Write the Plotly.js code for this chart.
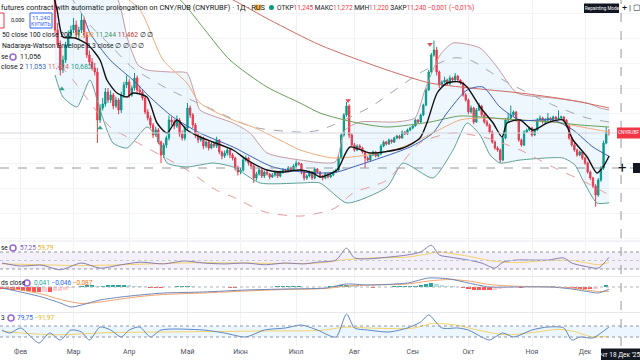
<!DOCTYPE html>
<html><head><meta charset="utf-8">
<script src="https://cdn.plot.ly/plotly-3.0.1.min.js"></script>
<style>html,body{margin:0;padding:0;background:#fff;overflow:hidden}#chart{width:640px;height:360px;}</style>
</head><body><div id="chart"></div>
<script>
// ---------- DATA (daily candles, index 0 = first trading day on screen) ----------
const monthLabels = ['Фев','Мар','Апр','Май','Июн','Июл','Авг','Сен','Окт','Ноя','Дек'];
const monthStartIdx = [7,27,48,70,90,111,133,155,176,200,220];

const open = [
13.65,13.62,13.58,13.50,13.46,13.52,13.55,13.42,13.48,13.44,
13.30,13.28,13.22,13.30,13.34,12.85,12.50,12.46,12.55,12.48,
12.42,12.064,11.944,11.744,11.824,11.944,12.024,12.064,12.104,12.024,
12.064,12.144,12.024,11.864,11.808,11.760,11.728,11.344,11.440,11.472,
11.568,11.504,11.544,11.456,11.504,11.424,11.544,11.624,11.648,11.544,
11.600,11.680,11.584,11.568,11.520,11.408,11.360,11.304,11.224,11.264,
11.168,11.064,11.144,11.200,11.344,11.328,11.296,11.344,11.232,11.200,
11.280,11.440,11.384,11.304,11.224,11.184,11.200,11.136,11.168,11.120,
11.152,11.136,11.184,11.088,11.056,11.080,11.104,11.064,11.040,10.960,
10.928,10.944,11.024,11.040,11.000,10.976,10.880,10.912,10.944,10.896,
10.928,10.912,10.888,10.904,10.928,10.896,10.928,10.944,10.936,10.960,
10.944,10.976,11.000,10.992,10.928,10.880,10.896,10.928,10.880,10.952,
10.928,10.896,10.880,10.912,10.888,10.904,10.928,10.944,11.040,11.224,
11.384,11.456,11.224,11.144,11.104,11.136,11.120,11.088,11.040,11.024,
11.064,11.088,11.056,11.072,11.136,11.168,11.152,11.184,11.168,11.200,
11.216,11.200,11.248,11.232,11.264,11.280,11.296,11.344,11.328,11.384,
11.464,11.584,11.728,11.864,11.904,11.728,11.624,11.648,11.664,11.632,
11.680,11.664,11.696,11.664,11.640,11.544,11.504,11.408,11.440,11.328,
11.424,11.456,11.384,11.328,11.304,11.248,11.168,11.120,11.104,11.024,
11.200,11.344,11.360,11.384,11.408,11.344,11.184,11.144,11.248,11.264,
11.280,11.224,11.264,11.344,11.360,11.328,11.344,11.360,11.344,11.368,
11.352,11.360,11.368,11.344,11.296,11.200,11.144,11.104,11.064,11.088,
11.040,11.000,10.928,10.880,10.816,10.744,10.864,10.960,11.160,11.245];
const high = [
13.70,13.66,13.62,13.54,13.56,13.60,13.58,13.50,13.52,13.48,
13.34,13.32,13.34,13.38,13.38,12.90,12.54,12.60,12.58,12.52,
12.440,12.120,11.980,11.860,11.970,12.060,12.100,12.160,12.140,12.090,
12.200,12.170,12.050,11.900,11.840,11.800,11.760,11.470,11.520,11.600,
11.600,11.580,11.560,11.530,11.520,11.570,11.650,11.700,11.670,11.620,
11.720,11.700,11.620,11.590,11.540,11.430,11.380,11.320,11.290,11.280,
11.180,11.160,11.220,11.380,11.370,11.350,11.380,11.360,11.260,11.300,
11.480,11.460,11.400,11.320,11.240,11.220,11.210,11.180,11.180,11.170,
11.170,11.210,11.190,11.100,11.100,11.120,11.110,11.080,11.050,10.980,
10.960,11.040,11.060,11.050,11.010,10.990,10.930,10.960,10.950,10.940,
10.940,10.920,10.920,10.940,10.935,10.940,10.960,10.955,10.975,10.970,
10.990,11.020,11.010,11.000,10.935,10.910,10.940,10.935,10.965,10.960,
10.935,10.905,10.925,10.920,10.915,10.940,10.955,11.060,11.240,11.400,
11.488,11.470,11.240,11.160,11.150,11.150,11.130,11.100,11.055,11.075,
11.100,11.095,11.085,11.150,11.180,11.175,11.195,11.190,11.210,11.225,
11.225,11.260,11.255,11.275,11.290,11.305,11.355,11.350,11.395,11.475,
11.600,11.745,11.880,11.980,11.930,11.740,11.660,11.690,11.675,11.700,
11.690,11.720,11.705,11.670,11.650,11.560,11.515,11.460,11.450,11.440,
11.480,11.465,11.395,11.345,11.315,11.260,11.180,11.135,11.115,11.215,
11.360,11.400,11.460,11.420,11.415,11.350,11.195,11.260,11.275,11.290,
11.290,11.275,11.360,11.380,11.370,11.360,11.400,11.365,11.380,11.375,
11.420,11.380,11.375,11.350,11.305,11.210,11.160,11.115,11.100,11.095,
11.050,11.010,10.940,10.890,10.830,10.880,10.975,11.180,11.288,11.272];
const low = [
13.58,13.54,13.46,13.42,13.43,13.49,13.38,13.39,13.40,13.26,
13.24,13.18,13.19,13.27,12.80,12.46,12.42,12.43,12.44,12.38,
12.040,11.920,11.700,11.720,11.800,11.920,12.000,12.040,12.000,11.990,
12.040,12.000,11.840,11.780,11.740,11.700,11.160,11.320,11.420,11.450,
11.480,11.480,11.430,11.440,11.390,11.400,11.520,11.600,11.520,11.530,
11.580,11.560,11.550,11.500,11.390,11.340,11.280,11.200,11.210,11.150,
11.000,11.040,11.120,11.180,11.300,11.270,11.280,11.210,11.180,11.180,
11.260,11.360,11.280,11.200,11.160,11.170,11.110,11.120,11.100,11.110,
11.120,11.120,11.070,11.030,11.040,11.060,11.040,11.020,10.940,10.900,
10.910,10.930,11.010,10.980,10.950,10.840,10.860,10.900,10.880,10.880,
10.900,10.870,10.880,10.890,10.880,10.885,10.915,10.925,10.925,10.930,
10.935,10.965,10.980,10.910,10.860,10.865,10.885,10.865,10.870,10.915,
10.880,10.860,10.870,10.875,10.880,10.895,10.920,10.935,11.030,11.210,
11.370,11.200,11.130,11.090,11.095,11.110,11.075,10.960,11.010,11.015,
11.055,11.045,11.045,11.065,11.125,11.140,11.145,11.155,11.160,11.190,
11.190,11.195,11.225,11.225,11.255,11.270,11.290,11.315,11.320,11.375,
11.455,11.575,11.720,11.850,11.700,11.600,11.610,11.640,11.620,11.625,
11.650,11.655,11.650,11.625,11.530,11.490,11.390,11.395,11.310,11.320,
11.415,11.370,11.315,11.290,11.235,11.155,11.105,11.090,11.000,11.015,
11.190,11.330,11.350,11.375,11.330,11.170,11.130,11.135,11.240,11.255,
11.210,11.215,11.255,11.335,11.315,11.320,11.335,11.330,11.335,11.340,
11.345,11.350,11.330,11.285,11.185,11.130,11.090,11.050,11.055,11.025,
10.985,10.915,10.865,10.800,10.650,10.730,10.850,10.945,11.150,11.220];
const close = [
13.62,13.58,13.50,13.46,13.52,13.55,13.42,13.48,13.44,13.30,
13.28,13.22,13.30,13.34,12.85,12.50,12.46,12.55,12.48,12.42,
12.064,11.944,11.744,11.824,11.944,12.024,12.064,12.104,12.024,12.064,
12.144,12.024,11.864,11.808,11.760,11.728,11.344,11.440,11.472,11.568,
11.504,11.544,11.456,11.504,11.424,11.544,11.624,11.648,11.544,11.600,
11.680,11.584,11.568,11.520,11.408,11.360,11.304,11.224,11.264,11.168,
11.064,11.144,11.200,11.344,11.328,11.296,11.344,11.232,11.200,11.280,
11.440,11.384,11.304,11.224,11.184,11.200,11.136,11.168,11.120,11.152,
11.136,11.184,11.088,11.056,11.080,11.104,11.064,11.040,10.960,10.928,
10.944,11.024,11.040,11.000,10.976,10.880,10.912,10.944,10.896,10.928,
10.912,10.888,10.904,10.928,10.896,10.928,10.944,10.936,10.960,10.944,
10.976,11.000,10.992,10.928,10.880,10.896,10.928,10.880,10.952,10.928,
10.896,10.880,10.912,10.888,10.904,10.928,10.944,11.040,11.224,11.384,
11.456,11.224,11.144,11.104,11.136,11.120,11.088,11.040,11.024,11.064,
11.088,11.056,11.072,11.136,11.168,11.152,11.184,11.168,11.200,11.216,
11.200,11.248,11.232,11.264,11.280,11.296,11.344,11.328,11.384,11.464,
11.584,11.728,11.864,11.904,11.728,11.624,11.648,11.664,11.632,11.680,
11.664,11.696,11.664,11.640,11.544,11.504,11.408,11.440,11.328,11.424,
11.456,11.384,11.328,11.304,11.248,11.168,11.120,11.104,11.024,11.200,
11.344,11.360,11.384,11.408,11.344,11.184,11.144,11.248,11.264,11.280,
11.224,11.264,11.344,11.360,11.328,11.344,11.360,11.344,11.368,11.352,
11.360,11.368,11.344,11.296,11.200,11.144,11.104,11.064,11.088,11.040,
11.000,10.928,10.880,10.816,10.744,10.864,10.960,11.160,11.245,11.240];

// overlay indicators (index, price)
const emaIdx = [18.9,20.8,23.0,27.5,32.5,37.0,39.6,43.4,47.2,49.4,54.7,58.5,62.3,66.0,69.8,74.7,79.6,87.2,92.5,100,106,112.5,117.4,120,126.4,131.3,138.9,151.3,157.7,160.5,164.2,167.9,172.8,175.5,180.4,185.3,188.7,190.6,195.5,200.4,205.7,211.7,215.5,220.8,224.5,226.8,229.1];
const emaVal = [12.384,12.224,12.008,12.000,11.944,11.824,11.664,11.560,11.528,11.560,11.528,11.320,11.240,11.344,11.264,11.208,11.168,11.104,11.024,10.944,10.928,10.944,10.920,10.888,10.944,11.128,11.080,11.120,11.200,11.330,11.560,11.640,11.648,11.608,11.448,11.320,11.208,11.320,11.344,11.264,11.320,11.344,11.184,11.048,10.920,10.968,11.056];
const basisIdx = [31.3,33.2,40.8,49.4,55.8,64.5,74.7,87.2,102.3,117.4,126.4,132.5,143.8,154.0,162.6,167.9,175.5,181.5,187.9,195.5,207.9,215.5,223.0,229.1];
const basisVal = [12.144,12.040,11.824,11.664,11.528,11.368,11.240,11.128,10.968,10.920,10.928,10.968,11.048,11.128,11.240,11.400,11.584,11.608,11.448,11.344,11.344,11.264,11.128,11.053];
const upperIdx = [20,37,43.8,47.5,51.3,54.7,63.4,69.8,72.8,74.7,87.2,93.6,100,112.5,125.7,129.4,135.1,148.3,155.8,159.6,165.3,170.2,180.4,186.8,194.3,207.9,220.8,225.7,229.1];
const upperVal = [12.624,12.504,12.304,11.984,11.784,11.744,11.728,11.720,11.544,11.424,11.320,11.240,11.080,11.024,11.008,11.264,11.328,11.328,11.360,11.584,11.864,11.960,11.920,11.768,11.560,11.520,11.480,11.440,11.424];
const lowerIdx = [20,23,28.3,33.2,37,41.9,47.2,54.7,58.5,62.3,69.8,79.6,87.2,97.4,112.5,120,130.2,145.3,151.3,162.6,170.2,175.5,180.4,184.2,187.9,195.5,211.7,216.2,219.2,224.5,229.1];
const lowerVal = [11.704,11.528,11.448,11.664,11.424,11.160,11.120,11.288,11.208,11.000,10.968,11.000,10.968,10.840,10.840,10.840,10.680,10.808,11.000,10.880,11.104,11.320,11.224,11.064,11.000,11.024,11.040,10.984,10.864,10.680,10.682];
const nwUpIdx = [21.9,33.2,40.8,49.4,63.4,77.4,94.7,112.5,120,138.9,157.7,170.2,176.6,189.1,207.9,220.8,229.1];
const nwUpVal = [12.464,12.104,11.944,11.760,11.584,11.448,11.288,11.248,11.264,11.448,11.720,11.840,11.824,11.664,11.464,11.360,11.328];
const nwLoIdx = [21.9,26.8,40.8,47.2,69.8,80.8,87.2,99.2,113.2,125.7,132.5,145.3,157.7,170.2,183.0,195.5,207.9,220.8,229.1];
const nwLoVal = [11.784,11.664,11.288,11.208,10.944,10.784,10.728,10.608,10.576,10.640,10.760,10.864,11.160,11.240,11.200,11.104,10.968,10.840,10.744];
const sma50Idx = [64.2,69.1,76.6,86.0,100,112.5,120,132.5,145.3,161.5,172.8,185.3,195.5,207.9,218.1,229.1];
const sma50Val = [12.368,12.264,12.064,11.824,11.608,11.480,11.400,11.328,11.288,11.328,11.376,11.360,11.344,11.328,11.304,11.288];
const sma100Idx = [43.8,52.1,60.8,69.8,74.7,87.2,94.7,104.9,112.5,124.9,137.7,150.2,162.6,172.8,180.4,195.5,207.9,220.8,229.1];
const sma100Val = [12.368,12.224,11.824,11.640,11.480,11.344,11.288,11.184,11.104,11.040,11.064,11.120,11.240,11.344,11.360,11.344,11.328,11.280,11.248];
const sma200Idx = [74.7,87.2,101.1,120,145.3,161.5,176.6,195.5,214.3,229.1];
const sma200Val = [12.424,12.304,12.144,11.944,11.744,11.640,11.600,11.560,11.504,11.440];
const buyIdx = [22.6,37.0], buyVal = [11.592,11.280];
const sellIdx = [130.6,161.5], sellVal = [11.500,11.950];

// RSI pane
const rsiIdx = [0,7,15,22,30,37,45,52,61,69,76,84,92,99,107,114,119,126,130,133,138,146,153,158,162,165,169,176,181,186,189,194,200,206,212,215,221,225,229];
const rsiVal = [44,37,39,28,44,32,40,46,42,49,44,42,44,40,44,42,46,51,79,56,54,58,63,70,86,63,58,51,44,32,46,51,51,51,56,44,35,32,57.25];
const rsiMaIdx = [0,15,30,45,61,76,92,107,119,130,140,153,160,165,170,176,186,194,206,215,221,225,229];
const rsiMaVal = [42,40,38,40,43,45,44,43,44,52,56,58,65,70,66,60,48,45,50,50,44,40,45];

// MACD pane
const macdIdx = [0,7,15,22,26,30,37,45,52,61,76,92,107,122,130,138,153,161,169,176,184,192,207,215,222,225,229];
const macdVal = [-0.02,-0.10,-0.20,-0.32,-0.40,-0.36,-0.26,-0.20,-0.16,-0.12,-0.10,-0.06,-0.04,-0.02,0.06,0.04,0.08,0.18,0.16,0.08,0.00,0.00,0.00,-0.04,-0.10,-0.12,-0.046];
const sigIdx = [0,7,15,22,30,37,45,52,61,76,92,107,122,130,140,153,161,169,176,184,192,207,215,222,225,229];
const sigVal = [0.00,-0.06,-0.14,-0.25,-0.33,-0.30,-0.24,-0.19,-0.15,-0.12,-0.08,-0.05,-0.03,0.02,0.04,0.06,0.12,0.15,0.12,0.05,0.02,0.00,-0.02,-0.07,-0.09,-0.087];
const histVal = [ // one bar every 2 sessions, from index 0
-0.03,-0.04,-0.05,-0.06,-0.07,-0.08,-0.09,-0.10,-0.09,-0.10,
-0.08,-0.07,-0.05,-0.02,0.01,0.03,0.04,0.04,0.02,0.03,
0.04,0.04,0.05,0.05,0.04,0.03,0.02,0.01,-0.01,-0.02,
-0.02,0.00,0.01,0.02,0.02,0.03,0.02,0.01,0.01,0.00,
0.01,0.01,0.00,-0.01,-0.01,0.00,0.01,0.01,0.00,0.01,
0.01,0.01,0.02,0.02,0.02,0.02,0.02,0.01,0.01,0.01,
0.01,0.01,0.02,0.02,0.04,0.05,0.04,0.03,0.01,0.00,
-0.01,0.00,0.01,0.01,0.02,0.02,0.02,0.03,0.03,0.04,
0.06,0.08,0.07,0.05,0.03,0.02,0.01,-0.02,-0.04,-0.05,
-0.05,-0.06,-0.06,-0.05,-0.04,-0.02,-0.01,0.00,-0.01,0.00,
0.00,0.01,0.01,0.01,0.02,0.01,0.01,-0.01,-0.02,-0.03,
-0.04,-0.04,-0.03,0.00,0.041];

// third oscillator pane
const oscIdx = [0,3,7,11,14,18,22,26,30,33,37,41,45,48,52,56,60,76,84,92,99,107,113,119,126,130,133,138,146,153,158,161,166,172,176,181,184,189,193,200,206,212,215,218,223,226,229];
const oscVal = [27,-27,64,-100,-209,-27,-155,27,-9,-155,82,27,-100,27,82,-100,27,27,-27,-100,27,64,118,27,-100,318,64,27,-9,64,173,300,64,64,27,-100,-155,-27,-100,27,82,64,-155,-100,-118,-27,79.75];
const oscMaIdx = [0,20,40,60,80,100,120,130,140,155,163,172,180,190,200,210,216,222,229];
const oscMaVal = [0,-60,-20,-10,0,10,20,80,60,60,150,110,20,-60,-20,40,0,-90,-91.97];

// ---------- LAYOUT HELPERS ----------
const xs = close.map((_, i) => i);
const PH = 346;                       // plot height (360 - bottom margin)
const dom = (top, bot) => [(PH - bot) / PH, (PH - top) / PH];
const px = x => x / 640, py = y => (PH - y) / PH;
const FONT = 'Roboto, "Noto Sans", sans-serif';

const sp = {type:'scatter', mode:'lines', hoverinfo:'skip', showlegend:false};
const line = (x, y, color, w, dash, yaxis) => Object.assign({}, sp, {x, y, yaxis: yaxis||'y', line:{color, width:w||1, dash:dash||'solid', shape:'spline', smoothing:0.7}});

const traces = [];
traces.push(Object.assign({}, sp, {x:upperIdx, y:upperVal, line:{color:'#c79aa0', width:1, shape:'spline', smoothing:0.6}}));
traces.push(Object.assign({}, sp, {x:lowerIdx, y:lowerVal, fill:'tonexty', fillcolor:'rgba(33,150,243,0.08)', line:{color:'#5f9f94', width:1, shape:'spline', smoothing:0.6}}));
traces.push(line(nwUpIdx, nwUpVal, '#a3a6ae', 1, 'dash'));
traces.push(line(nwLoIdx, nwLoVal, '#e79a9a', 1, 'dash'));
traces.push(line(sma200Idx, sma200Val, '#cf6b63', 1));
traces.push(line(sma100Idx, sma100Val, '#f0ac78', 1));
traces.push(line(sma50Idx, sma50Val, '#6a9e58', 1));
traces.push({type:'candlestick', x:xs, open, high, low, close, hoverinfo:'skip', showlegend:false,
  whiskerwidth:0,
  increasing:{line:{color:'#089981', width:1}, fillcolor:'#089981'},
  decreasing:{line:{color:'#f23645', width:1}, fillcolor:'#f23645'}});
traces.push(line(basisIdx, basisVal, '#3d5fb8', 1));
traces.push(line(emaIdx, emaVal, '#111111', 1.4));
traces.push(Object.assign({}, sp, {mode:'markers', x:buyIdx, y:buyVal, marker:{symbol:'triangle-up', size:5, color:'#2aa58e'}}));
traces.push(Object.assign({}, sp, {mode:'markers', x:sellIdx, y:sellVal, marker:{symbol:'triangle-down', size:5, color:'#e05060'}}));
traces.push(line(rsiMaIdx, rsiMaVal, '#f3d36a', 1, 'solid', 'y2'));
traces.push(line(rsiIdx, rsiVal, '#857bb0', 1, 'solid', 'y2'));
const histX = histVal.map((_, k) => k * 2);
const histCol = histVal.map((v, k) => {
  const prev = k ? histVal[k-1] : 0;
  if (v >= 0) return v >= prev ? '#26a69a' : '#b2dfdb';
  return v <= prev ? '#ff5252' : '#ffcdd2';
});
traces.push({type:'bar', x:histX, y:histVal, yaxis:'y3', width:1.6, marker:{color:histCol, line:{width:0}}, hoverinfo:'skip', showlegend:false});
traces.push(line(sigIdx, sigVal, '#f2a46a', 1, 'solid', 'y3'));
traces.push(line(macdIdx, macdVal, '#6f86b8', 1, 'solid', 'y3'));
traces.push(line(oscMaIdx, oscMaVal, '#f3d36a', 1, 'solid', 'y4'));
traces.push(line(oscIdx, oscVal, '#5d86c4', 1, 'solid', 'y4'));

const hidden = {showticklabels:false, ticks:'', zeroline:false, showline:false, fixedrange:true};
const grid = '#f0f2f6';

const shapes = [
  {type:'rect', xref:'paper', x0:0, x1:1, yref:'y2', y0:30, y1:70, fillcolor:'rgba(126,87,194,0.09)', line:{width:0}, layer:'below'},
  {type:'line', xref:'paper', x0:0, x1:1, yref:'y2', y0:70, y1:70, line:{color:'#9598a1', width:1, dash:'dot'}},
  {type:'line', xref:'paper', x0:0, x1:1, yref:'y2', y0:50, y1:50, line:{color:'#c5c8d0', width:1, dash:'dot'}},
  {type:'line', xref:'paper', x0:0, x1:1, yref:'y2', y0:30, y1:30, line:{color:'#9598a1', width:1, dash:'dot'}},
  {type:'line', xref:'paper', x0:0, x1:1, yref:'y3', y0:0, y1:0, line:{color:'#b0b3bb', width:1, dash:'dot'}},
  {type:'rect', xref:'paper', x0:0, x1:1, yref:'y4', y0:-100, y1:100, fillcolor:'rgba(33,150,243,0.09)', line:{width:0}, layer:'below'},
  {type:'line', xref:'paper', x0:0, x1:1, yref:'y4', y0:100, y1:100, line:{color:'#9598a1', width:1, dash:'dot'}},
  {type:'line', xref:'paper', x0:0, x1:1, yref:'y4', y0:-100, y1:-100, line:{color:'#9598a1', width:1, dash:'dot'}},
  {type:'line', xref:'paper', x0:0, x1:1, yref:'paper', y0:py(241), y1:py(241), line:{color:'#e6e8ee', width:1}},
  {type:'line', xref:'paper', x0:0, x1:1, yref:'paper', y0:py(276.5), y1:py(276.5), line:{color:'#e6e8ee', width:1}},
  {type:'line', xref:'paper', x0:0, x1:1, yref:'paper', y0:py(312.5), y1:py(312.5), line:{color:'#e6e8ee', width:1}},
  {type:'line', xref:'paper', x0:0, x1:1, yref:'y', y0:11.240, y1:11.240, line:{color:'#d3d6dd', width:1}},
  {type:'line', xref:'paper', x0:0, x1:1, yref:'y', y0:10.960, y1:10.960, line:{color:'#9598a1', width:1, dash:'dash'}},
  {type:'line', xref:'x', x0:233.6, x1:233.6, yref:'paper', y0:0, y1:1, line:{color:'#9598a1', width:1, dash:'dash'}},
  {type:'rect', xref:'paper', yref:'paper', x0:px(30), x1:px(52), y0:py(28), y1:py(13), line:{color:'#2962ff', width:1}, fillcolor:'rgba(255,255,255,0.85)'},
  {type:'rect', xref:'paper', yref:'paper', x0:px(-20), x1:px(4), y0:py(28), y1:py(13), line:{color:'#f23645', width:1}, fillcolor:'rgba(255,255,255,0.85)'},
  {type:'rect', xref:'paper', yref:'paper', x0:px(255), x1:px(261), y0:py(10.5), y1:py(4.5), line:{width:0}, fillcolor:'#f5b93a'},
  {type:'circle', xref:'paper', yref:'paper', x0:px(269), x1:px(274), y0:py(10), y1:py(5), line:{width:0}, fillcolor:'#089981'},
  {type:'rect', xref:'paper', yref:'paper', x0:px(584), x1:px(619), y0:py(13), y1:py(3.5), line:{width:0}, fillcolor:'#131722'},
  {type:'rect', xref:'paper', yref:'paper', x0:px(617), x1:px(641), y0:py(138.5), y1:py(127.5), line:{width:0}, fillcolor:'#f23645'},
  {type:'rect', xref:'paper', yref:'paper', x0:px(633), x1:px(641), y0:py(173), y1:py(163), line:{width:0}, fillcolor:'#131722'},
  {type:'rect', xref:'paper', yref:'paper', x0:px(601), x1:px(641), y0:py(360), y1:py(348.5), line:{width:0}, fillcolor:'#131722'}
];
[[13,57],[13,248],[27,283],[11,318]].forEach(([cx,cy]) => shapes.push({type:'circle', xref:'paper', yref:'paper', x0:px(cx-3), x1:px(cx+3), y0:py(cy+3), y1:py(cy-3), line:{color:'#9a6ad8', width:1.6}, fillcolor:'#fff'}));

const T = (x, y, text, size, color, xa) => ({xref:'paper', yref:'paper', x:px(x), y:py(y), text, showarrow:false, xanchor:xa||'left', yanchor:'middle', borderpad:0, font:{family:FONT, size:size||7, color:color||'#131722'}});
const c = (col, t) => `<span style="color:${col}">${t}</span>`;
const red = '#f23645';
const annotations = [
  T(0, 8, 'futures contract with automatic prolongation on CNY/RUB (CNYRUBF) · 1Д · RUS', 7.4),
  T(276, 8, 'ОТКР' + c(red,'11,245') + ' МАКС' + c(red,'11,272') + ' МИН' + c(red,'11,220') + ' ЗАКР' + c(red,'11,240') + ' ' + c(red,'−0,001 (−0,01%)'), 6.5),
  T(10, 20, '0,000', 5.5),
  T(41, 17, '11,240', 6, '#2962ff', 'center'),
  T(41, 24, 'КУПИТЬ', 5, '#2962ff', 'center'),
  T(1, 35, '50 close 100 close 200 ' + c('#e8a33a','11,108') + ' ' + c('#3f8f62','11,244') + ' ' + c('#c0392b','11,462') + ' ∅ ∅', 6.8),
  T(1, 46, 'Nadaraya-Watson Envelope 8 3 close ∅ ∅ ∅ ∅', 6.8),
  T(0, 57, 'se', 7), T(19, 57, '11,056', 7),
  T(0, 67, 'close 2 ' + c('#2f5fd0','11,053') + ' ' + c('#d05a6a','11,424') + ' ' + c('#1e9a8a','10,682'), 7),
  T(0, 248, 'se', 6.5), T(19, 248, c('#7e57c2','57,25') + ' ' + c('#e0b020','59,79'), 6.5),
  T(0, 283, 'ds close', 6.5), T(33, 283, c('#26a69a','0,041') + ' ' + c('#2962ff','−0,046') + ' ' + c('#ff6d00','−0,087'), 6.5),
  T(0, 318, '3', 6.5), T(16, 318, c('#2962ff','79,75') + ' ' + c('#e0b020','−91,97'), 6.5),
  T(601.5, 8.3, 'Repainting Mode', 4.5, '#ffffff', 'center'),
  T(624, 8, '+', 9, '#131722', 'center'),
  T(630, 8, '|', 8, '#131722', 'center'),
  T(637, 8, '▢', 8, '#131722', 'center'),
  T(628.5, 133, 'CNYRUBF', 4.8, '#ffffff', 'center'),
  T(622, 168, '+', 15, '#131722', 'center'),
  T(620.5, 354.5, "чт 18 Дек '25", 6.5, '#ffffff', 'center')
];

const layout = {
  width:640, height:360, margin:{l:0, r:0, t:0, b:14},
  paper_bgcolor:'#ffffff', plot_bgcolor:'#ffffff', showlegend:false, hovermode:false,
  bargap:0,
  xaxis:{range:[-0.755, 240.75], anchor:'y4', tickmode:'array', tickvals:monthStartIdx, ticktext:monthLabels,
    showgrid:true, gridcolor:grid, zeroline:false, showline:false, ticks:'', ticklen:0,
    tickfont:{family:FONT, size:7, color:'#50535e'}, rangeslider:{visible:false}, fixedrange:true},
  yaxis: Object.assign({domain:dom(0,240), range:[10.384, 12.304], showgrid:true, gridcolor:'#f4f5f8', dtick:0.2, tick0:10.4}, hidden),
  yaxis2: Object.assign({domain:dom(242,276), range:[13.5, 93.5], showgrid:false}, hidden),
  yaxis3: Object.assign({domain:dom(277,312), range:[-0.50, 0.20], showgrid:false}, hidden),
  yaxis4: Object.assign({domain:dom(313,346), range:[-263.6, 336.4], showgrid:false}, hidden),
  shapes, annotations
};

Plotly.newPlot('chart', traces, layout, {staticPlot:true, displayModeBar:false});
</script></body></html>
